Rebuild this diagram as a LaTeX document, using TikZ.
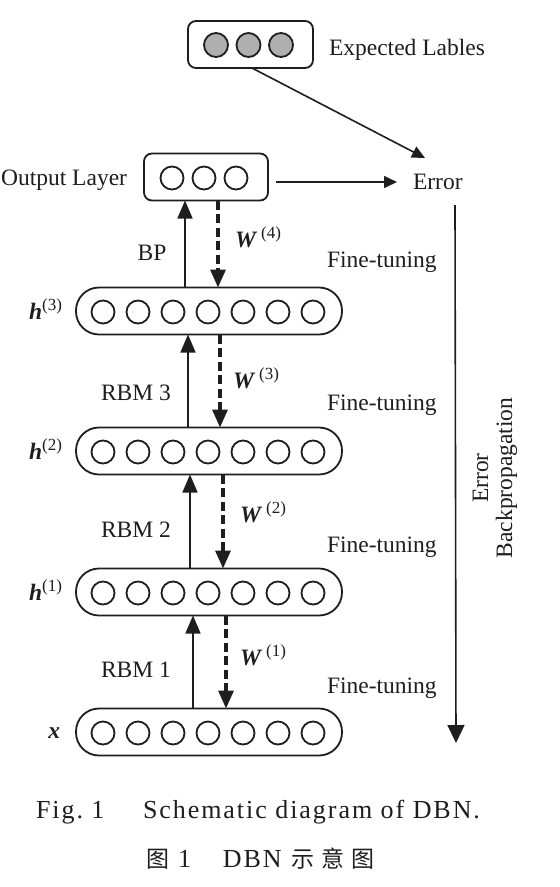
\documentclass[tikz,border=0pt]{standalone}
\usepackage{fontspec}
\setmainfont{Liberation Serif}
\newfontfamily\cjk{Noto Sans CJK SC}
\usetikzlibrary{arrows.meta,calc}
\definecolor{ink}{RGB}{30,30,30}
\definecolor{lablefill}{RGB}{175,175,175}
\newcommand{\sups}[1]{\raisebox{9pt}{\fontsize{17}{17}\selectfont #1}}
\begin{document}
\begin{tikzpicture}[x=1pt,y=-1pt,
  every node/.style={inner sep=0pt, outer sep=0pt, text=ink, font=\fontsize{23.5}{24}\selectfont},
  unit/.style={circle, draw=ink, line width=1.8pt, minimum size=23pt},
  lunit/.style={unit, fill=lablefill, minimum size=24pt},
  layerbox/.style={draw=ink, line width=1.8pt, minimum width=266pt, minimum height=47pt, rounded corners=23pt},
  smallbox/.style={draw=ink, line width=1.8pt, minimum width=124pt, minimum height=47pt, rounded corners=8pt},
  uparr/.style={-{Triangle[width=15pt,length=18pt]}, line width=1.6pt, draw=ink},
  downarr/.style={-{Triangle[width=15pt,length=18pt]}, line width=3.3pt, dash pattern=on 9pt off 4.5pt, draw=ink},
  smallarr/.style={-{Triangle[width=12pt,length=13pt]}, line width=1.6pt, draw=ink},
  bigarr/.style={-{Triangle[width=17pt,length=18pt]}, line width=1.6pt, draw=ink},
  capfont/.style={font=\fontsize{26}{26}\selectfont\addfontfeatures{LetterSpace=7.5}},
]
\fill[white] (0,0) rectangle (560,887);
\useasboundingbox (0,0) rectangle (560,887);

% expected labels
\node[smallbox, minimum width=125pt] (exp) at (250.5,44.5) {};
\foreach \i/\x in {1/216,2/248.5,3/281} \node[lunit] (exp\i) at (\x,45) {};
\node[anchor=base west] (explbl) at (329,55) {Expected Lables};

% output layer
\node[smallbox] (out) at (206,177) {};
\foreach \i/\x in {1/172,2/204,3/236} \node[unit] (out\i) at (\x,178) {};
\node[anchor=base east] (outlbl) at (127,185) {Output Layer};

% error
\node[anchor=base west] (err) at (413,189) {Error};
\coordinate (errin) at (397,182);
\coordinate (errtop) at (425,158);
\draw[smallarr] ($(out.east)+(8,5)$) -- (errin);
\draw[smallarr] ($(exp.south)+(1.5,0)$) -- (errtop);

% error backpropagation
\coordinate (bptop) at (455,205);
\coordinate (bpbot) at (456,743);
\draw[bigarr] (bptop) -- (bpbot);
\node[rotate=90, align=center] (ebp) at (495,478) {Error\\Backpropagation};

% layers
\foreach \n/\y in {h3/311,h2/451,h1/592,x/732}{
  \node[layerbox] (\n) at (209,\y) {};
  \foreach \k in {0,...,6} \node[unit] (\n-\k) at (103+35*\k,\y+1) {};
}
\node[anchor=base east] (lh3) at (62,319) {\textbf{\textit{h}}\sups{(3)}};
\node[anchor=base east] (lh2) at (62,459) {\textbf{\textit{h}}\sups{(2)}};
\node[anchor=base east] (lh1) at (62,600) {\textbf{\textit{h}}\sups{(1)}};
\node[anchor=base east] (lx) at (60,738) {\textbf{\textit{x}}};

% connectors between levels
\coordinate (u4) at (185,0); \coordinate (d4) at (218,0);
\coordinate (u3) at (188,0); \coordinate (d3) at (220,0);
\coordinate (u2) at (190,0); \coordinate (d2) at (223,0);
\coordinate (u1) at (193,0); \coordinate (d1) at (226,0);
\draw[uparr] (h3.north -| u4) -- (out.south -| u4);
\draw[downarr] (out.south -| d4) -- (h3.north -| d4);
\draw[uparr] (h2.north -| u3) -- (h3.south -| u3);
\draw[downarr] (h3.south -| d3) -- (h2.north -| d3);
\draw[uparr] (h1.north -| u2) -- (h2.south -| u2);
\draw[downarr] (h2.south -| d2) -- (h1.north -| d2);
\draw[uparr] (x.north -| u1) -- (h1.south -| u1);
\draw[downarr] (h1.south -| d1) -- (x.north -| d1);

% level labels
\node[anchor=base] (bp) at (152,260) {BP};
\node[anchor=base] (rbm3) at (136,400) {RBM 3};
\node[anchor=base] (rbm2) at (136,537) {RBM 2};
\node[anchor=base] (rbm1) at (136,677) {RBM 1};
\node[anchor=base west] (w4) at (235,247) {\textbf{\textit{W}}\,\sups{(4)}};
\node[anchor=base west] (w3) at (233,388) {\textbf{\textit{W}}\,\sups{(3)}};
\node[anchor=base west] (w2) at (240,522) {\textbf{\textit{W}}\,\sups{(2)}};
\node[anchor=base west] (w1) at (240,665) {\textbf{\textit{W}}\,\sups{(1)}};
\node[anchor=base west] (ft4) at (327,267) {Fine-tuning};
\node[anchor=base west] (ft3) at (327,410) {Fine-tuning};
\node[anchor=base west] (ft2) at (327,552) {Fine-tuning};
\node[anchor=base west] (ft1) at (327,693) {Fine-tuning};

% captions
\node[anchor=base west, capfont] (fig) at (36,818) {Fig.\ 1};
\node[anchor=base west, capfont] (figt) at (143,818) {Schematic diagram of DBN.};
\node[anchor=base west, capfont] (cap2) at (146,867) {{\cjk\fontsize{23}{23}\selectfont 图}\hspace{9pt}1\hspace{32pt}DBN\hspace{10pt}{\cjk\fontsize{23}{23}\selectfont 示}\hspace{7pt}{\cjk\fontsize{23}{23}\selectfont 意}\hspace{7pt}{\cjk\fontsize{23}{23}\selectfont 图}};
\end{tikzpicture}
\end{document}
